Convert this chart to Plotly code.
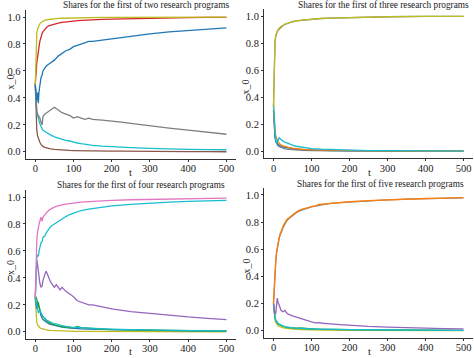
import plotly.graph_objects as go

# ---------------- data ----------------
# Panel 1: two research programs
t1 = [0, 2, 4, 6, 8, 10, 12, 15, 18, 20, 25, 30, 35, 40, 50, 60, 70, 80, 90, 100, 110, 120, 130, 140, 150,
      175, 200, 225, 250, 300, 350, 400, 450, 500]
p1_olive = [0.50, 0.80, 0.88, 0.91, 0.93, 0.94, 0.95, 0.96, 0.965, 0.97, 0.975, 0.98, 0.982, 0.985, 0.988, 0.99, 0.991,
            0.992, 0.993, 0.994, 0.995, 0.995, 0.996, 0.996, 0.997, 0.997, 0.998, 0.998, 0.998, 0.999, 0.999, 0.999, 1.0, 1.0]
p1_red = [0.50, 0.60, 0.66, 0.70, 0.73, 0.78, 0.82, 0.86, 0.88, 0.89, 0.91, 0.925, 0.935, 0.94, 0.95, 0.955, 0.96,
          0.965, 0.968, 0.97, 0.973, 0.975, 0.977, 0.978, 0.98, 0.983, 0.985, 0.987, 0.989, 0.992, 0.994, 0.996, 0.997, 0.998]
p1_blue = [0.50, 0.42, 0.38, 0.44, 0.36, 0.45, 0.50, 0.55, 0.57, 0.60, 0.62, 0.64, 0.65, 0.66, 0.68, 0.71, 0.73,
           0.75, 0.76, 0.78, 0.79, 0.80, 0.81, 0.82, 0.82, 0.83, 0.84, 0.85, 0.86, 0.875, 0.89, 0.90, 0.91, 0.92]
p1_gray = [0.50, 0.35, 0.30, 0.28, 0.27, 0.26, 0.25, 0.22, 0.20, 0.26, 0.28, 0.29, 0.30, 0.31, 0.33, 0.31, 0.29,
           0.28, 0.27, 0.25, 0.26, 0.25, 0.24, 0.25, 0.24, 0.235, 0.23, 0.22, 0.21, 0.19, 0.175, 0.16, 0.145, 0.13]
p1_cyan = [0.50, 0.35, 0.30, 0.27, 0.24, 0.22, 0.21, 0.19, 0.17, 0.16, 0.15, 0.14, 0.13, 0.125, 0.11, 0.10, 0.09,
           0.085, 0.08, 0.07, 0.065, 0.06, 0.055, 0.05, 0.048, 0.042, 0.037, 0.033, 0.03, 0.025, 0.02, 0.018, 0.016, 0.015]
p1_brown = [0.50, 0.25, 0.16, 0.12, 0.10, 0.08, 0.07, 0.055, 0.045, 0.04, 0.033, 0.028, 0.024, 0.021, 0.017, 0.014,
            0.012, 0.011, 0.01, 0.009, 0.008, 0.008, 0.007, 0.007, 0.006, 0.005, 0.004, 0.004, 0.003, 0.002, 0.002, 0.001, 0.001, 0.0]

# Panel 2: three research programs
t2 = [0, 2, 4, 6, 8, 10, 12, 15, 18, 20, 25, 30, 40, 50, 60, 80, 100, 125, 150, 200, 250, 300, 400, 500]
p2_olive = [0.33, 0.70, 0.82, 0.86, 0.88, 0.89, 0.90, 0.91, 0.92, 0.925, 0.93, 0.94, 0.95, 0.96, 0.965, 0.972, 0.978,
            0.982, 0.985, 0.99, 0.993, 0.995, 0.997, 0.998]
p2_gray = [0.33, 0.68, 0.81, 0.85, 0.875, 0.885, 0.895, 0.905, 0.915, 0.92, 0.93, 0.938, 0.95, 0.958, 0.964, 0.971,
           0.977, 0.982, 0.985, 0.99, 0.993, 0.995, 0.997, 0.998]
p2_orange = [0.33, 0.22, 0.15, 0.11, 0.09, 0.08, 0.07, 0.06, 0.05, 0.045, 0.04, 0.035, 0.028, 0.022, 0.018, 0.013,
             0.01, 0.008, 0.006, 0.004, 0.003, 0.002, 0.001, 0.0]
p2_cyan = [0.35, 0.22, 0.12, 0.08, 0.06, 0.07, 0.09, 0.10, 0.09, 0.085, 0.075, 0.068, 0.055, 0.045, 0.037, 0.027,
           0.02, 0.015, 0.012, 0.008, 0.005, 0.004, 0.002, 0.001]
p2_blue = [0.30, 0.18, 0.11, 0.08, 0.065, 0.055, 0.05, 0.045, 0.04, 0.037, 0.032, 0.028, 0.022, 0.018, 0.015, 0.011,
           0.008, 0.006, 0.005, 0.003, 0.002, 0.001, 0.001, 0.0]
p2_gray2 = [0.30, 0.16, 0.10, 0.07, 0.055, 0.045, 0.04, 0.034, 0.03, 0.027, 0.022, 0.018, 0.014, 0.011, 0.009, 0.006,
            0.005, 0.004, 0.003, 0.002, 0.001, 0.001, 0.0, 0.0]

# Panel 3: four research programs
t3 = [0, 2, 4, 6, 8, 10, 12, 15, 18, 20, 25, 28, 30, 35, 40, 45, 50, 55, 60, 65, 70, 80, 90, 100, 110, 120, 140,
      150, 175, 200, 250, 300, 350, 400, 450, 500]
p3_pink = [0.25, 0.55, 0.68, 0.74, 0.78, 0.80, 0.82, 0.85, 0.82, 0.85, 0.87, 0.88, 0.89, 0.90, 0.91, 0.92, 0.925,
           0.93, 0.935, 0.94, 0.942, 0.948, 0.952, 0.956, 0.96, 0.962, 0.966, 0.968, 0.972, 0.975, 0.98, 0.983, 0.986,
           0.988, 0.99, 0.992]
p3_cyan = [0.25, 0.45, 0.55, 0.57, 0.56, 0.60, 0.63, 0.66, 0.67, 0.70, 0.71, 0.73, 0.74, 0.76, 0.78, 0.79, 0.80,
           0.81, 0.82, 0.83, 0.84, 0.855, 0.87, 0.88, 0.89, 0.90, 0.91, 0.915, 0.925, 0.935, 0.945, 0.955, 0.962,
           0.968, 0.972, 0.975]
p3_purple = [0.25, 0.45, 0.53, 0.50, 0.45, 0.40, 0.36, 0.33, 0.34, 0.38, 0.43, 0.45, 0.44, 0.40, 0.37, 0.35, 0.33,
             0.35, 0.33, 0.31, 0.33, 0.30, 0.28, 0.26, 0.23, 0.22, 0.20, 0.20, 0.185, 0.17, 0.15, 0.135, 0.12, 0.11,
             0.10, 0.09]
p3_blue = [0.25, 0.22, 0.18, 0.15, 0.14, 0.15, 0.16, 0.14, 0.12, 0.11, 0.10, 0.09, 0.085, 0.08, 0.07, 0.065, 0.06,
           0.055, 0.05, 0.048, 0.045, 0.04, 0.036, 0.033, 0.035, 0.03, 0.027, 0.025, 0.022, 0.02, 0.016, 0.013, 0.01,
           0.008, 0.006, 0.005]
p3_green = [0.25, 0.26, 0.24, 0.22, 0.20, 0.18, 0.16, 0.14, 0.12, 0.11, 0.095, 0.085, 0.08, 0.07, 0.062, 0.056,
            0.05, 0.047, 0.044, 0.041, 0.038, 0.034, 0.03, 0.028, 0.04, 0.03, 0.025, 0.022, 0.019, 0.016, 0.013, 0.01,
            0.008, 0.007, 0.006, 0.005]
p3_teal = [0.25, 0.20, 0.17, 0.20, 0.22, 0.18, 0.15, 0.12, 0.10, 0.09, 0.08, 0.072, 0.068, 0.06, 0.054, 0.05,
           0.046, 0.042, 0.04, 0.037, 0.035, 0.031, 0.028, 0.026, 0.024, 0.022, 0.02, 0.019, 0.017, 0.015, 0.012,
           0.01, 0.008, 0.006, 0.005, 0.004]
p3_olive = [0.25, 0.12, 0.07, 0.05, 0.04, 0.035, 0.03, 0.025, 0.022, 0.02, 0.016, 0.014, 0.013, 0.011, 0.01, 0.009,
            0.008, 0.007, 0.006, 0.006, 0.005, 0.004, 0.004, 0.003, 0.003, 0.003, 0.002, 0.002, 0.002, 0.001, 0.001,
            0.001, 0.0, 0.0, 0.0, 0.0]

# Panel 4: five research programs
t4 = [0, 2, 4, 6, 8, 10, 12, 15, 18, 20, 25, 30, 35, 40, 50, 60, 70, 80, 90, 100, 110, 120, 130, 140, 150, 175,
      200, 250, 300, 350, 400, 450, 500]
p4_orange = [0.20, 0.35, 0.45, 0.52, 0.58, 0.62, 0.65, 0.69, 0.72, 0.73, 0.77, 0.80, 0.82, 0.83, 0.855, 0.875,
             0.89, 0.90, 0.91, 0.915, 0.92, 0.93, 0.932, 0.935, 0.94, 0.945, 0.95, 0.958, 0.965, 0.97, 0.974, 0.977, 0.98]
p4_gray = [0.20, 0.34, 0.44, 0.51, 0.57, 0.61, 0.64, 0.68, 0.71, 0.72, 0.76, 0.79, 0.81, 0.825, 0.85, 0.87,
           0.885, 0.895, 0.905, 0.912, 0.918, 0.925, 0.93, 0.933, 0.938, 0.944, 0.949, 0.957, 0.964, 0.969, 0.973, 0.976, 0.979]
p4_purple = [0.20, 0.14, 0.12, 0.13, 0.18, 0.24, 0.21, 0.18, 0.16, 0.15, 0.14, 0.15, 0.13, 0.12, 0.11, 0.10,
             0.09, 0.08, 0.07, 0.065, 0.058, 0.06, 0.055, 0.055, 0.05, 0.045, 0.04, 0.032, 0.027, 0.022, 0.019, 0.016, 0.014]
p4_cyan = [0.20, 0.14, 0.10, 0.08, 0.07, 0.06, 0.055, 0.048, 0.043, 0.04, 0.035, 0.03, 0.027, 0.025, 0.021, 0.018,
           0.016, 0.015, 0.014, 0.013, 0.012, 0.011, 0.011, 0.01, 0.01, 0.009, 0.008, 0.007, 0.006, 0.005, 0.004, 0.003, 0.002]
p4_green = [0.20, 0.13, 0.095, 0.075, 0.065, 0.055, 0.05, 0.044, 0.04, 0.037, 0.032, 0.028, 0.025, 0.023, 0.02,
            0.018, 0.02, 0.017, 0.015, 0.013, 0.012, 0.011, 0.01, 0.01, 0.009, 0.008, 0.008, 0.007, 0.006, 0.005, 0.004,
            0.004, 0.003]
p4_olive = [0.20, 0.12, 0.08, 0.06, 0.05, 0.042, 0.037, 0.032, 0.028, 0.026, 0.022, 0.019, 0.017, 0.015, 0.012,
            0.01, 0.009, 0.008, 0.007, 0.006, 0.006, 0.005, 0.005, 0.004, 0.004, 0.003, 0.003, 0.002, 0.002, 0.001,
            0.001, 0.001, 0.0]

titles = ["Shares for the first of two research programs",
          "Shares for the first of three research programs",
          "Shares for the first of four research programs",
          "Shares for the first of five research programs"]
x_label = "t"
y_label = "x_0"
x_ticks = [0, 100, 200, 300, 400, 500]
y_ticks = [0.0, 0.2, 0.4, 0.6, 0.8, 1.0]

C = dict(blue="#1f77b4", orange="#ff7f0e", green="#2ca02c", red="#d62728", purple="#9467bd",
         brown="#8c564b", pink="#e377c2", gray="#7f7f7f", olive="#bcbd22", cyan="#17becf")

panels = [
    (t1, [(p1_brown, "brown"), (p1_cyan, "cyan"), (p1_gray, "gray"), (p1_blue, "blue"),
          (p1_red, "red"), (p1_olive, "olive")]),
    (t2, [(p2_gray2, "gray"), (p2_blue, "blue"), (p2_orange, "orange"), (p2_cyan, "cyan"),
          (p2_gray, "gray"), (p2_olive, "olive")]),
    (t3, [(p3_olive, "olive"), (p3_teal, "blue"), (p3_green, "green"), (p3_blue, "cyan"),
          (p3_purple, "purple"), (p3_cyan, "cyan"), (p3_pink, "pink")]),
    (t4, [(p4_olive, "olive"), (p4_green, "green"), (p4_cyan, "cyan"), (p4_purple, "purple"),
          (p4_gray, "gray"), (p4_orange, "orange")]),
]

W, H = 474, 358
# pixel boxes (left, right, top, bottom)
boxes = [(25.7, 236, 10.3, 158.5), (264, 473, 9.3, 158),
         (25.7, 236, 190.3, 338.5), (264, 473, 188.2, 337.5)]
title_pos = [(146, 5), (383, 5), (141, 185), (380, 184)]
t_pos = [(130, 172.5), (369, 172.5), (130, 351.5), (369, 351.5)]
y_pos = [(9.5, 82), (245.5, 87), (10, 268), (245.5, 266)]

fig = go.Figure()
layout = {}
FONT = "Liberation Serif, Times New Roman, serif"
for i, ((t, series), box) in enumerate(zip(panels, boxes)):
    n = "" if i == 0 else str(i + 1)
    for vals, col in series:
        fig.add_trace(go.Scatter(x=t, y=vals, mode="lines", line=dict(color=C[col], width=1.3),
                                 xaxis="x" + n, yaxis="y" + n, showlegend=False, hoverinfo="skip"))
    l, r, tp, b = box
    axcommon = dict(showline=True, linecolor="#333", linewidth=1, ticks="outside", ticklen=2,
                    tickcolor="#333", showgrid=False, zeroline=False,
                    tickfont=dict(family=FONT, size=10.5, color="#222"))
    layout["xaxis" + n] = dict(axcommon, domain=[l / W, r / W], range=[-25, 525], tickvals=x_ticks,
                               anchor="y" + n, ticklabelstandoff=-2)
    layout["yaxis" + n] = dict(axcommon, domain=[1 - b / H, 1 - tp / H], range=[-0.05, 1.05], tickvals=y_ticks,
                               tickformat=".1f", anchor="x" + n)
    fig.add_annotation(text=titles[i], x=title_pos[i][0] / W, y=1 - title_pos[i][1] / H, xref="paper",
                       yref="paper", showarrow=False, xanchor="center", yanchor="middle",
                       font=dict(family=FONT, size=9.3, color="#222"))
    fig.add_annotation(text=x_label, x=t_pos[i][0] / W, y=1 - t_pos[i][1] / H, xref="paper",
                       yref="paper", showarrow=False, xanchor="center", yanchor="middle",
                       font=dict(family=FONT, size=10.5, color="#222"))
    fig.add_annotation(text=y_label, x=y_pos[i][0] / W, y=1 - y_pos[i][1] / H, xref="paper",
                       yref="paper", showarrow=False, xanchor="center", yanchor="middle", textangle=-90,
                       font=dict(family=FONT, size=10, color="#222"))

fig.update_layout(**layout)
fig.update_layout(width=W, height=H, margin=dict(l=0, r=0, t=0, b=0), plot_bgcolor="white",
                  paper_bgcolor="white")
fig.write_html("out.html", config={"displayModeBar": False},
               post_script="document.body.style.margin='0';document.body.style.overflow='hidden';")
